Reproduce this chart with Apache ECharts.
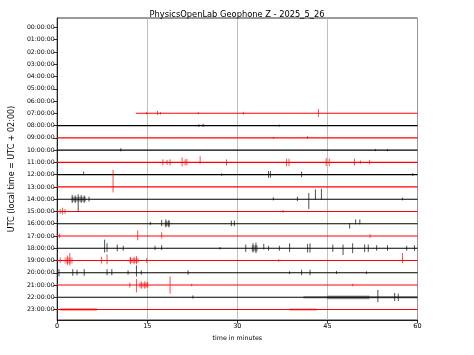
<!DOCTYPE html>
<html>
<head>
<meta charset="utf-8">
<script src="https://cdn.jsdelivr.net/npm/echarts@6/dist/echarts.min.js"></script>
<style>
  html, body { margin: 0; background: #fff; }
  #chart { width: 474px; height: 355px; }
</style>
</head>
<body>
<div id="chart"></div>
<script>
// ticks on the y axis, one per hour
const hourLabels = [
  '00:00:00', '01:00:00', '02:00:00', '03:00:00', '04:00:00', '05:00:00',
  '06:00:00', '07:00:00', '08:00:00', '09:00:00', '10:00:00', '11:00:00',
  '12:00:00', '13:00:00', '14:00:00', '15:00:00', '16:00:00', '17:00:00',
  '18:00:00', '19:00:00', '20:00:00', '21:00:00', '22:00:00', '23:00:00'
]

// recorded lines: [hour, first minute, last minute]
const traces = [
  [7, 13.1, 60], [8, 0, 60], [9, 0, 60], [10, 0, 60], [11, 0, 60],
  [12, 0, 60], [13, 0, 60], [14, 0, 60], [15, 0, 60], [16, 0, 60],
  [17, 0, 60], [18, 0, 60], [19, 0, 60], [20, 0, 60], [21, 0, 60],
  [22, 0, 60], [23, 0, 60]
]

// spikes: [hour, minute, swing up, swing down] (in hour units)
const spikes = [
  [7, 14.9, 0.12, 0.1], [7, 16.7, 0.2, 0.15], [7, 17.2, 0.1, 0.1], [7, 23.5, 0.1, 0.08],
  [7, 31, 0.12, 0.1], [7, 43.5, 0.35, 0.3],
  [8, 23.6, 0.1, 0.1], [8, 24.3, 0.15, 0.1], [8, 37, 0.08, 0.08],
  [9, 36, 0.08, 0.08], [9, 41.7, 0.15, 0.1],
  [10, 10.6, 0.15, 0.1], [10, 53, 0.08, 0.08], [10, 55, 0.08, 0.08],
  [11, 17.6, 0.25, 0.25], [11, 18.3, 0.2, 0.2], [11, 18.8, 0.25, 0.25], [11, 20.8, 0.4, 0.3],
  [11, 21.3, 0.25, 0.25], [11, 21.6, 0.3, 0.25], [11, 23.8, 0.5, 0.1], [11, 28.2, 0.25, 0.25],
  [11, 38.2, 0.3, 0.3], [11, 38.6, 0.3, 0.3], [11, 44.8, 0.35, 0.3], [11, 45.3, 0.3, 0.3],
  [11, 49.5, 0.3, 0.25], [11, 50.5, 0.15, 0.1], [11, 52, 0.2, 0.15],
  [12, 4.4, 0.25, 0.05], [12, 27.4, 0.1, 0.1], [12, 35.2, 0.3, 0.25], [12, 35.5, 0.3, 0.25],
  [12, 40.7, 0.25, 0.2], [12, 59.2, 0.12, 0.1],
  [13, 9.3, 1.4, 0.45],
  [14, 2.5, 0.35, 0.3], [14, 3.0, 0.3, 0.3], [14, 3.5, 0.4, 1.0], [14, 4.0, 0.35, 0.3],
  [14, 4.5, 0.3, 0.3], [14, 5.3, 0.2, 0.2], [14, 36, 0.15, 0.1], [14, 40, 0.2, 0.15],
  [14, 41.9, 0.5, 0.8], [14, 43.0, 0.8, 0.05], [14, 44.0, 0.85, 0.05], [14, 57.5, 0.12, 0.1],
  [15, 0.5, 0.2, 0.2], [15, 0.9, 0.3, 0.25], [15, 1.3, 0.2, 0.2], [15, 37.6, 0.12, 0.1],
  [16, 15.5, 0.15, 0.1], [16, 17.4, 0.3, 0.2], [16, 18.1, 0.35, 0.3], [16, 18.6, 0.3, 0.3],
  [16, 29.0, 0.25, 0.2], [16, 29.5, 0.25, 0.2], [16, 48.7, 0.05, 0.4], [16, 49.7, 0.35, 0.05],
  [16, 50.4, 0.35, 0.05],
  [17, 0.4, 0.2, 0.15], [17, 13.4, 0.45, 0.35], [17, 17.4, 0.3, 0.2], [17, 52.1, 0.15, 0.15],
  [18, 7.9, 0.7, 0.35], [18, 8.3, 0.4, 0.3], [18, 10, 0.3, 0.25], [18, 11, 0.2, 0.2],
  [18, 16.3, 0.2, 0.15], [18, 17.4, 0.25, 0.15], [18, 27.1, 0.1, 0.1], [18, 31.4, 0.3, 0.3],
  [18, 32.6, 0.4, 0.35], [18, 33.1, 0.45, 0.4], [18, 34.4, 0.35, 0.1], [18, 35.2, 0.2, 0.2],
  [18, 37, 0.2, 0.2], [18, 38.7, 0.4, 0.3], [18, 41.7, 0.35, 0.35], [18, 42.1, 0.4, 0.35],
  [18, 45.9, 0.3, 0.3], [18, 47.6, 0.3, 0.55], [18, 49.2, 0.4, 0.4], [18, 51.2, 0.3, 0.3],
  [18, 51.8, 0.3, 0.3], [18, 53.2, 0.25, 0.2], [18, 55, 0.25, 0.2], [18, 58.2, 0.2, 0.2],
  [18, 59.5, 0.25, 0.2],
  [19, 0.5, 0.25, 0.2], [19, 1.7, 0.4, 0.35], [19, 2.1, 0.6, 0.4], [19, 7.4, 0.3, 0.25],
  [19, 8.3, 0.5, 0.3], [19, 12.2, 0.3, 0.3], [19, 12.8, 0.3, 0.3], [19, 13.2, 0.35, 0.3],
  [19, 14.9, 0.2, 0.2], [19, 36.9, 0.1, 0.1], [19, 57.5, 0.6, 0.2],
  [20, 0.3, 0.3, 0.3], [20, 2.6, 0.3, 0.25], [20, 3.3, 0.25, 0.2], [20, 4.5, 0.3, 0.25],
  [20, 8.3, 0.3, 0.2], [20, 9.1, 0.3, 0.2], [20, 11.8, 0.2, 0.15], [20, 13.2, 0.6, 0.3],
  [20, 14.0, 0.2, 0.15], [20, 21.8, 0.2, 0.15], [20, 38.7, 0.12, 0.1], [20, 40.7, 0.25, 0.2],
  [20, 42.1, 0.25, 0.2], [20, 46.5, 0.15, 0.1], [20, 51.5, 0.12, 0.1],
  [21, 12.1, 0.2, 0.2], [21, 13.2, 0.5, 0.6], [21, 14.0, 0.3, 0.3], [21, 14.6, 0.3, 0.3],
  [21, 15.0, 0.25, 0.2], [21, 18.8, 0.7, 0.7], [21, 22.4, 0.1, 0.1], [21, 49.2, 0.1, 0.1],
  [22, 22.6, 0.15, 0.1], [22, 53.4, 0.6, 0.4], [22, 56.2, 0.35, 0.3], [22, 56.8, 0.3, 0.3]
]

// stretches of raised noise: [hour, from minute, to minute, half width]
const noiseBands = [
  [22, 41, 60, 0.1], [22, 45, 52, 0.15],
  [23, 0.5, 6.6, 0.12], [23, 38.7, 43.2, 0.1],
  [19, 1.2, 2.6, 0.25], [19, 12, 13.6, 0.2], [21, 13.6, 15.2, 0.2],
  [18, 32.4, 33.4, 0.25], [14, 2.4, 4.8, 0.2], [16, 17.9, 18.8, 0.2]
]

const colorOf = h => (h % 2 ? '#ff0000' : '#000000')

const chart = echarts.init(document.getElementById('chart'))

chart.setOption({
  animation: false,
  textStyle: { fontFamily: 'DejaVu Sans' },
  title: {
    text: 'PhysicsOpenLab Geophone Z - 2025_5_26',
    left: 'center',
    top: 6,
    textStyle: { fontSize: 8.3, fontWeight: 'normal', color: '#000' }
  },
  grid: {
    left: 57, right: 56.5, top: 18, bottom: 35,
    show: true, borderColor: '#000', borderWidth: 0.8
  },
  xAxis: {
    type: 'value', min: 0, max: 60, interval: 15,
    name: 'time in minutes', nameLocation: 'middle', nameGap: 13,
    nameTextStyle: { fontSize: 6.3, color: '#000' },
    axisLine: { onZero: false, lineStyle: { color: '#000', width: 0.8 } },
    axisTick: { length: 3.5, lineStyle: { color: '#000', width: 0.8 } },
    axisLabel: { fontSize: 6.5, color: '#000', margin: 3 },
    splitLine: { show: true, lineStyle: { color: '#b0b0b0', width: 0.8 } }
  },
  yAxis: {
    type: 'value', inverse: true, min: -0.77, max: 23.85,
    name: 'UTC (local time = UTC + 02:00)', nameLocation: 'middle',
    nameGap: 39, nameRotate: 90,
    nameTextStyle: { fontSize: 8, color: '#000' },
    axisLine: { show: true, onZero: false, lineStyle: { color: '#000', width: 0.8 } },
    axisTick: { show: true, length: 3.5, lineStyle: { color: '#000', width: 0.8 },
      customValues: hourLabels.map((_, i) => i) },
    axisLabel: { fontSize: 6.2, color: '#000', margin: 2.5,
      customValues: hourLabels.map((_, i) => i),
      formatter: v => hourLabels[Math.round(v)] },
    splitLine: { show: false }
  },
  series: [
    {
      type: 'custom', name: 'traces', clip: true,
      data: traces,
      renderItem: (params, api) => {
        const h = api.value(0)
        const a = api.coord([api.value(1), h])
        const b = api.coord([api.value(2), h])
        return { type: 'line', shape: { x1: a[0], y1: a[1], x2: b[0], y2: b[1] },
          style: { stroke: colorOf(h), lineWidth: 1.1 } }
      }
    },
    {
      type: 'custom', name: 'noise', clip: true,
      data: noiseBands,
      renderItem: (params, api) => {
        const h = api.value(0), w = api.value(3)
        const a = api.coord([api.value(1), h - w])
        const b = api.coord([api.value(2), h + w])
        return { type: 'rect', shape: { x: a[0], y: a[1], width: b[0] - a[0], height: b[1] - a[1] },
          style: { fill: colorOf(h), opacity: 0.35 } }
      }
    },
    {
      type: 'custom', name: 'spikes', clip: true,
      data: spikes,
      renderItem: (params, api) => {
        const h = api.value(0), m = api.value(1)
        const a = api.coord([m, h - api.value(2)])
        const b = api.coord([m, h + api.value(3)])
        return { type: 'line', shape: { x1: a[0], y1: a[1], x2: b[0], y2: b[1] },
          style: { stroke: colorOf(h), lineWidth: 0.7 } }
      }
    }
  ]
})
</script>
</body>
</html>
